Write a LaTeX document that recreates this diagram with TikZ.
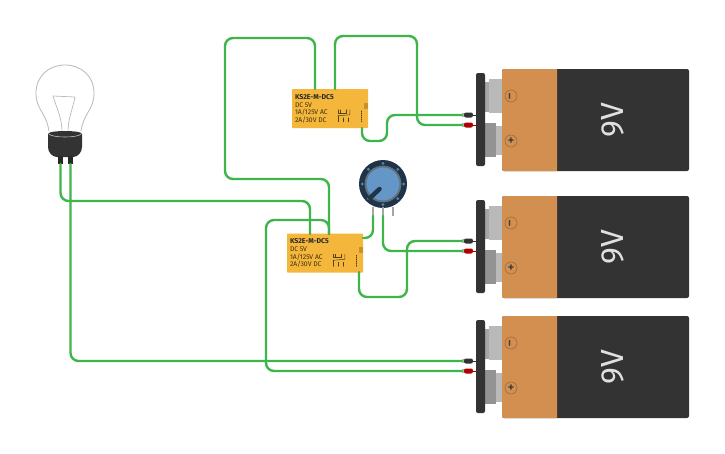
\documentclass[tikz,border=0pt]{standalone}
\usepackage{fontspec}
\setmainfont{Fira Sans}
\usetikzlibrary{calc}

\definecolor{wiregreen}{HTML}{3DB54A}
\definecolor{copper}{HTML}{D28F50}
\definecolor{cell}{HTML}{333333}
\definecolor{relayorange}{HTML}{F5B73B}
\definecolor{knobblue}{HTML}{6497C8}
\definecolor{knobdark}{HTML}{1F3547}

\begin{document}
\begin{tikzpicture}[x=1pt, y=-1pt, line cap = round, line join = round]
\tikzstyle{wire}=[line width=2.4pt, color=wiregreen, rounded corners=8pt]
\tikzstyle{relay}=[fill=relayorange, draw=none, rounded corners=0.7pt, minimum width=76pt, minimum height=39pt, inner sep=0pt]
\tikzstyle{relaytext}=[anchor=west, inner sep=0pt, text=black!75!relayorange, font=\fontsize{6.8}{7}\selectfont]
\tikzstyle{relaytitle}=[anchor=west, inner sep=0pt, text=black!85, font=\fontsize{7}{7}\selectfont\bfseries]
\tikzstyle{schema}=[line width=0.5pt, color=black!65!relayorange]
\tikzstyle{pin}=[line width=1.6pt, color=gray!70, line cap=butt]
\tikzstyle{filament}=[line width=0.7pt, color=gray!55, fill=none]
\tikzstyle{sign}=[inner sep=0pt, text=black!75, font=\fontsize{12}{12}\selectfont\bfseries]
\tikzstyle{clip}=[rounded corners=2pt]
\useasboundingbox (0,0) rectangle (725,453);
\fill[white] (0,0) rectangle (725,453);

% batteries
\foreach \n/\dy/\dw in {A/0/0, B/127/126, C/247/246} {
  \begin{scope}[shift={(0,\dy)}]
    \fill[cell, rounded corners=2pt] (502,69) rectangle (689,171);
    \fill[copper] (557,69) [rounded corners=2pt] -- (502,69) -- (502,171) [sharp corners] -- (557,171) -- cycle;
    \fill[gray!70] (485,82) rectangle (490,112);
    \fill[gray!55] (489,79) rectangle (502,113);
    \fill[gray!55] (495,126) rectangle (502,155);
    \fill[gray!85] (485,123) rectangle (496,157);
    \fill[cell, rounded corners=2pt] (476,73) rectangle (485,166);
    \draw[copper!75!black, line width=0.6pt] (511,96) circle (6);
    \draw[copper!75!black, line width=0.6pt] (511,141) circle (6);
    \node[sign] (minus\n) at (511,96) {\rotatebox{90}{–}};
    \node[sign] (plus\n) at (511,141) {+};
    \node[rotate=90, inner sep=0pt, text=black!12, font=\fontsize{32}{32}\selectfont] (label\n) at (612.5,120) {9V};
  \end{scope}
  % clips on the terminals
  \fill[gray!60] (462,113+\dw) rectangle (465,117+\dw);
  \fill[black!80, clip] (464,112.5+\dw) rectangle (473,117.5+\dw);
  \draw[black!80, line width=1pt] (472,115+\dw) -- (476,115+\dw);
  \fill[gray!60] (462,123+\dw) rectangle (465,127+\dw);
  \fill[red!70!black, clip] (464,122.5+\dw) rectangle (473,127.5+\dw);
  \draw[red!70!black, line width=1pt] (472,125+\dw) -- (476,125+\dw);
  \coordinate (neg\n) at (462,115+\dw);
  \coordinate (pos\n) at (462,125+\dw);
}

% relays
\foreach \n/\x/\y in {A/330/108.5, B/325/253} {
  \node[relay] (relay\n) at (\x,\y) {};
  \node[relaytitle] (title\n) at ($(relay\n.north west)+(3,8)$) {KS2E-M-DC5};
  \node[relaytext] (volt\n) at ($(relay\n.north west)+(3,16)$) {DC 5V};
  \node[relaytext] (ac\n) at ($(relay\n.north west)+(3,23.5)$) {1A/125V AC};
  \node[relaytext] (dc\n) at ($(relay\n.north west)+(3,31)$) {2A/30V DC};
  \begin{scope}[shift={(relay\n.north west)}]
    \draw[schema] (46,21) -- (46,24) -- (54,24) -- (54,21);
    \draw[schema] (48,24) -- (48,21);
    \draw[schema] (46,27) -- (58,26) -- (58,21);
    \draw[schema] (46,27) -- (46,33);
    \draw[schema] (51,29) -- (51,33);
    \draw[schema] (56,29) -- (56,33);
    \draw[schema, dash pattern=on 1pt off 1pt] (69,22) -- (69,33);
    \fill[relayorange!80!black] (72,14) rectangle (76,20);
  \end{scope}
}
\coordinate (a1) at (315,89);
\coordinate (a2) at (335,89);
\coordinate (a3) at (362,128);
\coordinate (b1) at (310,234);
\coordinate (b2) at (329,234);
\coordinate (b3) at (359,272);
\coordinate (b4) at (363,238);

% potentiometer
\node[circle, fill=knobdark, minimum size=48pt, inner sep=0pt] (knob) at (383,184) {};
\foreach \a in {0,45,...,315}
  \fill[knobblue!85!knobdark] ($(knob)+(\a:20.7)$) circle (1.5);
\node[circle, draw=knobdark!70!white, dash pattern=on 0.8pt off 0.8pt, line width=2pt, fill=knobblue, minimum size=35pt, inner sep=0pt] (dial) at (knob) {};
\draw[knobdark, line width=4.5pt] ($(knob)+(-13,14)$) -- ($(knob)+(-3.5,5)$);
\draw[pin] (373,207) -- (373,217);
\draw[pin] (383,207) -- (383,217);
\draw[pin] (393,207) -- (393,216);
\coordinate (p1) at (373,216);
\coordinate (p2) at (383,216);

% lamp
\draw[filament, line width=0.8pt] (49,131) .. controls (46,112) and (36,110) .. (36,93)
  .. controls (36,76) and (49,65) .. (65,65)
  .. controls (81,65) and (94,76) .. (94,93)
  .. controls (94,110) and (84,112) .. (81,131);
\draw[filament] (62,133) .. controls (62,118) and (58,112) .. (53,96) -- (75,97)
  .. controls (72,112) and (68,118) .. (68,133);
\fill[cell] (48,134) .. controls (48,130) and (82,130) .. (82,134) -- (82,147)
  .. controls (82,152) and (78,157) .. (73,157) -- (57,157)
  .. controls (52,157) and (48,152) .. (48,147) -- cycle;
\draw[gray!50, line width=0.6pt] (49,134) .. controls (52,138) and (78,138) .. (81,134);
\fill[cell!80!black] (58,156) rectangle (63,164);
\fill[cell!80!black] (68,156) rectangle (73,164);
\coordinate (lamp1) at (60.5,164);
\coordinate (lamp2) at (70.5,164);

% wires
\draw[wire] (a1) -- (315,38) -- (225,38) -- (225,179) -- (329,179) -- (b2);
\draw[wire] (a2) -- (335,36) -- (417,36) -- (417,125) -- (posA);
\draw[wire] (a3) -- (362,141) -- (387,141) -- (387,115) -- (negA);
\draw[wire] (lamp1) -- (60.5,201) -- (310,201) -- (b1);
\draw[wire] (lamp2) -- (70.5,361) -- (negC);
\draw[wire] (posC) -- (266,371) -- (266,220) -- (329,220) -- (b2);
\draw[wire] (b3) -- (359,297) -- (407,297) -- (407,241) -- (negB);
\draw[wire] (p1) -- (373,238) -- (b4);
\draw[wire] (p2) -- (383,251) -- (posB);
\end{tikzpicture}
\end{document}
